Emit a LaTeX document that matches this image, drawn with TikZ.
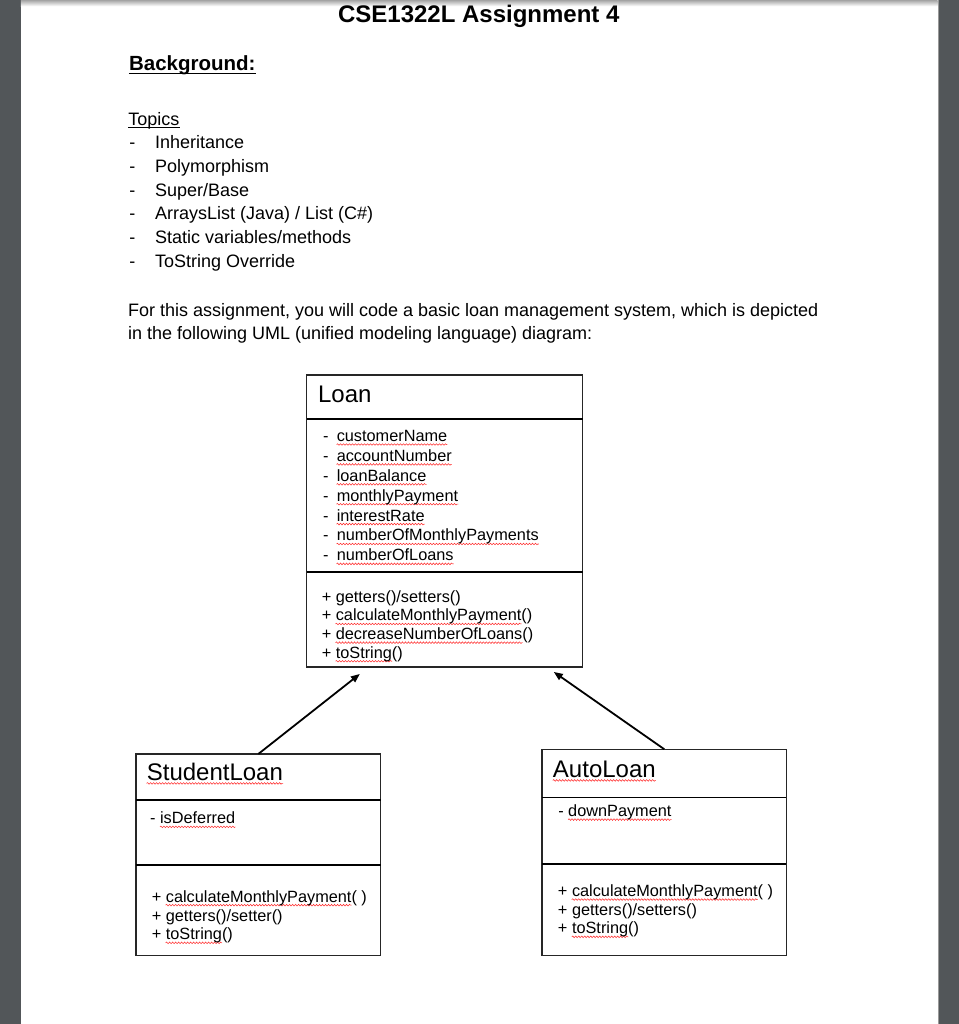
\documentclass[tikz,border=0pt]{standalone}
\usepackage{fontspec}
\setmainfont{Liberation Sans}
\usepackage{tikz}
\usetikzlibrary{positioning,arrows.meta,decorations.pathmorphing}
\definecolor{viewer}{RGB}{82,86,89}
\newcommand{\bodysize}{\fontsize{18}{21}\selectfont}
\newcommand{\membersize}{\fontsize{16.3}{19.5}\selectfont}
\tikzset{
   body text/.style={anchor=base west, inner sep=0pt, font=\bodysize},
   member/.style={anchor=base west, inner sep=0pt, font=\membersize},
   class title/.style={anchor=base west, inner sep=0pt, font=\fontsize{24}{28}\selectfont},
   class box/.style={draw=black!85, line width=1.2pt, anchor=north west, inner sep=0pt, outer sep=0pt},
   sep line/.style={line width=1.7pt},
   squiggle/.style={draw=red!80, line width=0.55pt, decorate,
      decoration={snake, segment length=3pt, amplitude=0.8pt}},
   spelled/.style 2 args={append after command={\pgfextra{\let\fixname\tikzlastnode
      \draw[squiggle] ([xshift=#1,yshift=-3pt]\fixname.base west)
         -- ([xshift=-#2,yshift=-3pt]\fixname.base east);}}},
   spelled word/.style={spelled={0pt}{0pt}},
   inherit/.style={-{Triangle[length=9pt,width=7pt]}, line width=1.8pt}
}
\begin{document}
\begin{tikzpicture}[x=1pt,y=-1pt]
   % page and viewer
   \fill[viewer] (0,0) rectangle (959,1024);
   \fill[white] (21,0) rectangle (938,1024);
   \shade[top color=black!35, bottom color=white] (21,0) rectangle (938,6);
   \draw[black!40] (938.5,0) -- (938.5,1024);
   \useasboundingbox (0,0) rectangle (959,1024);

   % heading
   \node[anchor=base, inner sep=0pt, font=\bfseries\fontsize{24}{28}\selectfont] (title) at (479,22) {CSE1322L Assignment 4};
   \node[anchor=base west, inner sep=0pt, font=\bfseries\fontsize{20.5}{24}\selectfont] (background) at (129,70) {Background:};
   \draw[line width=1.8pt] ([yshift=-3.3pt]background.base west) -- ([yshift=-3.3pt]background.base east);

   % topics
   \node[body text] (topics) at (128.3,125) {Topics};
   \draw[line width=0.9pt] ([yshift=-2.6pt]topics.base west) -- ([yshift=-2.6pt]topics.base east);
   \foreach \topic [count=\i] in {Inheritance, Polymorphism, Super/Base, {ArraysList (Java) / List (C\#)}, Static variables/methods, ToString Override} {
      \node[body text] (dash\i) at (129.3,{148.3+23.8*(\i-1)}) {-};
      \node[body text] (topic\i) at (155,{148.3+23.8*(\i-1)}) {\topic};
   }
   \node[body text] (para1) at (128,316) {For this assignment, you will code a basic loan management system, which is depicted};
   \node[body text] (para2) at (128,339.5) {in the following UML (unified modeling language) diagram:};

   % Loan
   \node[class box, minimum width=276, minimum height=292] (loan) at (307,375) {};
   \node[class title] (loan name) at (318,402) {Loan};
   \draw[sep line] (307,419) -- (583,419);
   \foreach \attr [count=\i] in {customerName, accountNumber, loanBalance, monthlyPayment, interestRate, numberOfMonthlyPayments, numberOfLoans} {
      \node[member] (ld\i) at (323,{441.5+19.9*(\i-1)}) {-};
      \node[member, spelled word] (la\i) at (336.7,{441.5+19.9*(\i-1)}) {\attr};
   }
   \draw[sep line] (307,572.3) -- (583,572.3);
   \node[member] (lm1) at (321.7,602.3) {+ getters()/setters()};
   \node[member, spelled={14pt}{10.9pt}] (lm2) at (321.7,621) {+ calculateMonthlyPayment()};
   \node[member, spelled={14pt}{10.9pt}] (lm3) at (321.7,639.7) {+ decreaseNumberOfLoans()};
   \node[member, spelled={14pt}{10.9pt}] (lm4) at (321.7,658.3) {+ toString()};

   % StudentLoan
   \node[class box, minimum width=245, minimum height=202] (student) at (136,754) {};
   \node[class title, spelled word] (student name) at (146.7,780.5) {StudentLoan};
   \draw[sep line, line width=1.4pt] (136,800) -- (381,800);
   \node[member, spelled={10pt}{0pt}] (sa1) at (150,824) {- isDeferred};
   \draw[sep line, line width=1.4pt] (136,865) -- (381,865);
   \node[member, spelled={14pt}{15.4pt}] (sm1) at (151.7,902.3) {+ calculateMonthlyPayment( )};
   \node[member] (sm2) at (151.7,921.3) {+ getters()/setter()};
   \node[member, spelled={14pt}{10.9pt}] (sm3) at (151.7,940) {+ toString()};

   % AutoLoan
   \node[class box, minimum width=244.4, minimum height=206.7] (auto) at (542.3,749.3) {};
   \node[class title, spelled word] (auto name) at (553,777.5) {AutoLoan};
   \draw[sep line, line width=1.4pt] (542.3,797.7) -- (786.7,797.7);
   \node[member, spelled={10pt}{0pt}] (aa1) at (558.3,816.7) {- downPayment};
   \draw[sep line, line width=1.4pt] (542.3,864) -- (786.7,864);
   \node[member, spelled={14pt}{15.4pt}] (am1) at (558,896.7) {+ calculateMonthlyPayment( )};
   \node[member] (am2) at (558,915.3) {+ getters()/setters()};
   \node[member, spelled={14pt}{10.9pt}] (am3) at (558,934) {+ toString()};

   % inheritance
   \coordinate (student tip) at (360,674);
   \coordinate (auto tip) at (554,672);
   \draw[inherit] (student.north) -- (student tip);
   \draw[inherit] (auto.north) -- (auto tip);
\end{tikzpicture}
\end{document}
